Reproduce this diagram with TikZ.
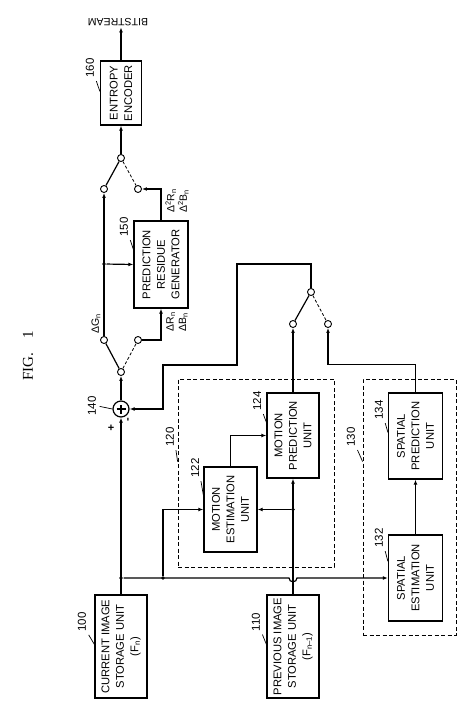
\documentclass[tikz,border=0pt]{standalone}
\usepackage{fontspec}
\setmainfont{Liberation Sans}
\newfontfamily\figfont{Liberation Serif}
\usetikzlibrary{arrows.meta, positioning, calc}

\begin{document}
\begin{tikzpicture}[x=1pt, y=-1pt, line width=1.2pt,
  >={Latex[length=5pt,width=3.8pt]},
  unitbox/.style={draw, rotate=90, align=center, inner sep=1pt,
    font=\fontsize{11.2}{14.5}\selectfont},
  refnum/.style={rotate=90, inner sep=1pt, font=\fontsize{11.5}{13}\selectfont},
  sigtext/.style={rotate=90, align=left, inner sep=1pt, font=\fontsize{10.5}{12.5}\selectfont},
  swpt/.style={circle, draw, fill=white, minimum size=7pt, inner sep=0pt, line width=0.9pt},
  jdot/.style={circle, fill, minimum size=3.8pt, inner sep=0pt},
  groupbox/.style={draw, line width=0.8pt, dash pattern=on 4pt off 2.5pt, inner sep=0pt},
  switchoff/.style={line width=0.8pt, dash pattern=on 3pt off 2pt},
  leader/.style={line width=0.7pt, shorten <=2pt}]
  \useasboundingbox (0,0) rectangle (474,719);

  % units
  \node[unitbox, minimum width=64pt, minimum height=41pt] (enc) at (121,93) {ENTROPY\\ENCODER};
  \node[unitbox, minimum width=87pt, minimum height=54pt] (gen) at (161,264.5) {PREDICTION\\RESIDUE\\GENERATOR};
  \node[unitbox, minimum width=103pt, minimum height=52pt] (cur) at (121,646.5) {CURRENT IMAGE\\STORAGE UNIT\\(F\textsubscript{n})};
  \node[unitbox, minimum width=103pt, minimum height=52pt] (prev) at (293,646.5) {PREVIOUS IMAGE\\STORAGE UNIT\\(F\textsubscript{n--1})};
  \node[unitbox, minimum width=85pt, minimum height=53pt] (mest) at (230.5,509.5) {MOTION\\ESTIMATION\\UNIT};
  \node[unitbox, minimum width=85pt, minimum height=52pt] (mpred) at (293,435.5) {MOTION\\PREDICTION\\UNIT};
  \node[unitbox, minimum width=86pt, minimum height=54pt] (sest) at (415.5,578) {SPATIAL\\ESTIMATION\\UNIT};
  \node[unitbox, minimum width=86pt, minimum height=54pt] (spred) at (415.5,436) {SPATIAL\\PREDICTION\\UNIT};
  \node[groupbox, minimum width=156pt, minimum height=188pt] (g120) at (256,473) {};
  \node[groupbox, minimum width=93pt, minimum height=256pt] (g130) at (409.5,507) {};

  % adder and switches
  \node[circle, draw, minimum size=16pt, inner sep=0pt] (add) at (121,409) {};
  \draw ([xshift=-4.5pt]add.center) -- ([xshift=4.5pt]add.center)
        ([yshift=-4.5pt]add.center) -- ([yshift=4.5pt]add.center);
  \node[swpt] (s1) at (121,158) {};
  \node[swpt] (s1a) at (104,189) {};
  \node[swpt] (s1b) at (138,189) {};
  \node[swpt] (s2) at (121,372) {};
  \node[swpt] (s2a) at (104,340) {};
  \node[swpt] (s2b) at (138,340) {};
  \node[swpt] (s3) at (311,292) {};
  \node[swpt] (s3a) at (293,324) {};
  \node[swpt] (s3b) at (328,324) {};

  \node[jdot] (jdg) at (104,264) {};
  \node[jdot] (jcur) at (121,578) {};
  \node[jdot] (jme) at (163,578) {};
  \node[jdot] (jprev) at (293,509.5) {};

  % texts
  \node[rotate=180, inner sep=1pt, font=\fontsize{10.5}{12}\selectfont] (bits) at (118,22) {BITSTREAM};
  \node[rotate=90, font=\figfont\fontsize{15}{16}\selectfont] (fig) at (28,356) {FIG.\hspace{14pt}1};
  \node[sigtext] (dg) at (96,324) {ΔG\textsubscript{n}};
  \node[sigtext] (d2) at (177,201) {Δ\textsuperscript{2}R\textsubscript{n}\\Δ\textsuperscript{2}B\textsubscript{n}};
  \node[sigtext] (d1) at (177,322) {ΔR\textsubscript{n}\\ΔB\textsubscript{n}};
  \node[inner sep=0pt, font=\bfseries\fontsize{11}{12}\selectfont] (plus) at (111,428) {+};
  \node[rotate=90, inner sep=0pt, font=\bfseries\fontsize{11}{12}\selectfont] (minus) at (129,420) {-};

  \node[refnum] (l160) at (90,68) {160};
  \node[refnum] (l150) at (124,227) {150};
  \node[refnum] (l140) at (92,406) {140};
  \node[refnum] (l120) at (170,437) {120};
  \node[refnum] (l122) at (195,468) {122};
  \node[refnum] (l124) at (257,401) {124};
  \node[refnum] (l130) at (351,437) {130};
  \node[refnum] (l134) at (379,410) {134};
  \node[refnum] (l132) at (379,538) {132};
  \node[refnum] (l100) at (82,622) {100};
  \node[refnum] (l110) at (256,622) {110};

  \draw[leader] (l160.south west) -- ($(enc.north east)+(0,31)$);
  \draw[leader] (l150.south west) -- ($(gen.north east)+(0,29)$);
  \draw[leader] (l140.south) -- (add.west);
  \draw[leader] (l120.south west) -- ($(g120.north west)+(0,83)$);
  \draw[leader] (l122.south west) -- ($(mest.north east)+(0,29)$);
  \draw[leader] (l124.south west) -- ($(mpred.north east)+(0,30)$);
  \draw[leader] (l130.south west) -- ($(g130.north west)+(0,83)$);
  \draw[leader] (l134.south west) -- ($(spred.north east)+(0,40)$);
  \draw[leader] (l132.south west) -- ($(sest.north east)+(0,27)$);
  \draw[leader] (l100.south west) -- ($(cur.north east)+(0,50)$);
  \draw[leader] (l110.south west) -- ($(prev.north east)+(0,50)$);

  % connectors
  \draw[->] (cur.east) -- (add);
  \draw[->] (add) -- (s2);
  \draw (s2) -- (s2a);
  \draw[switchoff] (s2) -- (s2b);
  \draw[->] (s2a) -- (s1a);
  \draw[->] (jdg) -- (gen.north);
  \draw[->] (s2b) -| (gen.west);
  \draw[->] (gen.east) |- (s1b);
  \draw (s1) -- (s1a);
  \draw[switchoff] (s1) -- (s1b);
  \draw[->] (s1) -- (enc.west);
  \draw[->] (enc.east) -- (enc.east |- bits.north);

  \draw[->] (jcur) -- ($(jprev |- jcur)+(-4,0)$) .. controls +(0,5) and +(0,5) .. ++(8,0) -- (sest.north);
  \draw[->] (jme) |- (mest.north);
  \draw[->] (prev.east) -- (mpred.west);
  \draw[->] (jprev) -- (mest.south);
  \draw[->] (mest.east) |- (mpred.north);
  \draw[->] (mpred.east) -- (s3a);
  \draw[->] (sest.east) -- (spred.west);
  \draw[->] (spred.east) -- ++(0,-28) -| (s3b);
  \draw (s3) -- (s3a);
  \draw[switchoff] (s3) -- (s3b);
  \draw[->] (s3) -- ++(0,-28) -| (237,365) -| (163,409) -- (add);
\end{tikzpicture}
\end{document}
